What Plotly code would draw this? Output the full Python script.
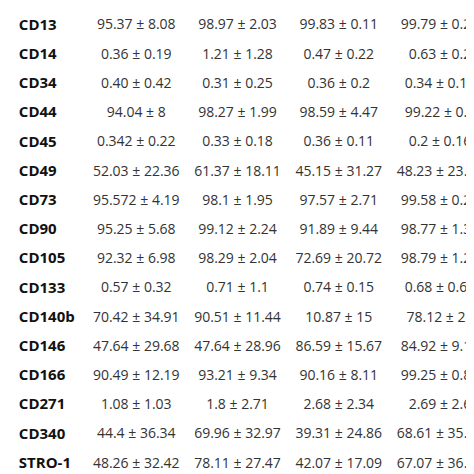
import plotly.graph_objects as go

markers = ["CD13","CD14","CD34","CD44","CD45","CD49","CD73","CD90","CD105","CD133","CD140b","CD146","CD166","CD271","CD340","STRO-1","HLA-ABC"]
col1 = ["95.37 ± 8.08","0.36 ± 0.19","0.40 ± 0.42","94.04 ± 8","0.342 ± 0.22","52.03 ± 22.36","95.572 ± 4.19","95.25 ± 5.68","92.32 ± 6.98","0.57 ± 0.32","70.42 ± 34.91","47.64 ± 29.68","90.49 ± 12.19","1.08 ± 1.03","44.4 ± 36.34","48.26 ± 32.42","88.83 ± 17.18"]
col2 = ["98.97 ± 2.03","1.21 ± 1.28","0.31 ± 0.25","98.27 ± 1.99","0.33 ± 0.18","61.37 ± 18.11","98.1 ± 1.95","99.12 ± 2.24","98.29 ± 2.04","0.71 ± 1.1","90.51 ± 11.44","47.64 ± 28.96","93.21 ± 9.34","1.8 ± 2.71","69.96 ± 32.97","78.11 ± 27.47","97.18 ± 5.38"]
col3 = ["99.83 ± 0.11","0.47 ± 0.22","0.36 ± 0.2","98.59 ± 4.47","0.36 ± 0.11","45.15 ± 31.27","97.57 ± 2.71","91.89 ± 9.44","72.69 ± 20.72","0.74 ± 0.15","10.87 ± 15","86.59 ± 15.67","90.16 ± 8.11","2.68 ± 2.34","39.31 ± 24.86","42.07 ± 17.09","89.63 ± 10.83"]
col4 = ["99.79 ± 0.27","0.63 ± 0.2","0.34 ± 0.15","99.22 ± 0.6","0.2 ± 0.16","48.23 ± 23.98","99.58 ± 0.26","98.77 ± 1.39","98.79 ± 1.22","0.68 ± 0.61","78.12 ± 25","84.92 ± 9.14","99.25 ± 0.84","2.69 ± 2.6","68.61 ± 35.31","67.07 ± 36.24","98.76 ± 0.17"]

rows = list(range(len(markers)))
fig = go.Figure()
fig.add_trace(go.Scatter(x=[-0.16]*len(rows), y=rows, mode="text", text=markers,
    textposition="middle right",
    textfont=dict(family="Open Sans", size=15, color="#111"), texttemplate="<b>%{text}</b>"))
for i, col in enumerate([col1, col2, col3, col4]):
    fig.add_trace(go.Scatter(x=[i+1]*len(rows), y=rows, mode="text", text=col,
        textfont=dict(family="Open Sans", size=14, color="#333")))
fig.update_layout(width=474, height=474, margin=dict(l=0, r=0, t=0, b=0),
    plot_bgcolor="white", paper_bgcolor="white", showlegend=False,
    xaxis=dict(range=[-0.267, 4.415], visible=False),
    yaxis=dict(range=[15.615, -0.616], visible=False))
fig.write_html("out.html")
